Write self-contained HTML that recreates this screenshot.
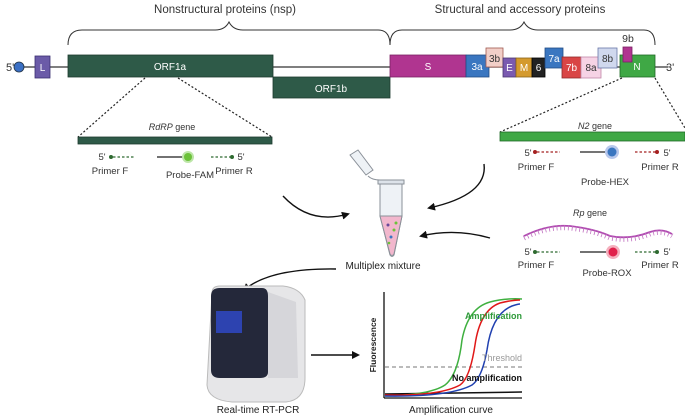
<!DOCTYPE html>
<html><head><meta charset="utf-8"><style>
html,body{margin:0;padding:0;background:#fff}
svg{display:block}
text{font-family:"Liberation Sans",sans-serif}
</style></head><body>
<svg width="685" height="417" viewBox="0 0 685 417" xmlns="http://www.w3.org/2000/svg">
<g font-size="11.5" fill="#333" text-anchor="middle">
<text x="225" y="13">Nonstructural proteins (nsp)</text>
<text x="520" y="13">Structural and accessory proteins</text>
</g>
<g fill="none" stroke="#333" stroke-width="1">
<path d="M68,45 Q68,30 82,30 L215,30 Q225,30 229,22 Q233,30 243,30 L378,30 Q390,30 390,45"/>
<path d="M390,45 Q390,30 402,30 L510,30 Q520,30 524,22 Q528,30 538,30 L644,30 Q655,30 655,45"/>
</g>
<line x1="20" y1="67" x2="668" y2="67" stroke="#333" stroke-width="1.3"/>
<line x1="273" y1="87" x2="390" y2="87" stroke="#333" stroke-width="1.3"/>
<text x="6" y="71" font-size="11" fill="#333">5'</text>
<text x="666" y="71" font-size="11" fill="#333">3'</text>
<circle cx="19" cy="67" r="5" fill="#3a6fc4" stroke="#234" stroke-width="0.8"/>
<g stroke-width="0.8" font-size="10" fill="#fff" text-anchor="middle">
<rect x="35" y="56" width="15" height="22" fill="#6b5ba8" stroke="#3a2f70"/><text x="42.5" y="71" fill="#fff">L</text>
<rect x="68" y="55" width="205" height="22" fill="#2e5a48" stroke="#1d3a2e"/><text x="170" y="70" fill="#fff">ORF1a</text>
<rect x="273" y="77" width="117" height="21" fill="#2e5a48" stroke="#1d3a2e"/><text x="331" y="92" fill="#fff">ORF1b</text>
<rect x="390" y="55" width="76" height="22" fill="#b03590" stroke="#7a2264"/><text x="428" y="70" fill="#fff">S</text>
<rect x="466" y="55" width="23" height="22" fill="#3a76c0" stroke="#244d85"/><text x="477" y="70" fill="#fff">3a</text>
<rect x="486" y="48" width="17" height="19" fill="#f2cfc8" stroke="#a05a50"/><text x="494.5" y="62" fill="#333">3b</text>
<rect x="503" y="58" width="13" height="19" fill="#7a5ab0" stroke="#4a3570"/><text x="509.5" y="71" fill="#fff">E</text>
<rect x="516" y="58" width="16" height="19" fill="#d49a2e" stroke="#8a6418"/><text x="524" y="71" fill="#fff">M</text>
<rect x="532" y="58" width="13" height="19" fill="#222" stroke="#000"/><text x="538.5" y="71" fill="#fff">6</text>
<rect x="545" y="48" width="18" height="20" fill="#3a76c0" stroke="#244d85"/><text x="554" y="62" fill="#fff">7a</text>
<rect x="562" y="57" width="19" height="21" fill="#d94545" stroke="#8f2a2a"/><text x="571.5" y="71" fill="#fff">7b</text>
<rect x="581" y="57" width="20" height="21" fill="#f6d3e5" stroke="#c088a8"/><text x="591" y="71" fill="#333">8a</text>
<rect x="598" y="48" width="19" height="20" fill="#d0d8ee" stroke="#6a78a8"/><text x="607.5" y="62" fill="#333">8b</text>
<rect x="620" y="55" width="35" height="22" fill="#3fa845" stroke="#1f6a25"/><text x="637" y="70" fill="#fff">N</text>
<rect x="623" y="47" width="9" height="15" fill="#b03590" stroke="#7a2264"/>
</g>
<text x="628" y="42" font-size="10.5" fill="#333" text-anchor="middle">9b</text>
<g stroke="#222" stroke-width="1.2" stroke-dasharray="2,2" fill="none">
<line x1="145" y1="78" x2="78" y2="137"/><line x1="178" y1="78" x2="272" y2="137"/>
<line x1="622" y1="78" x2="500" y2="132"/><line x1="655" y1="78" x2="685" y2="128"/>
</g>
<!-- RdRP -->
<text x="172" y="130" font-size="9" fill="#333" text-anchor="middle"><tspan font-style="italic">RdRP</tspan> gene</text>
<rect x="78" y="137" width="194" height="7" fill="#2e5a48" stroke="#1d3a2e" stroke-width="0.8"/>
<g font-size="9.5" fill="#333" text-anchor="middle">
<text x="102" y="160">5'</text><circle cx="111" cy="157" r="2" fill="#2e6a30"/>
<line x1="113" y1="157" x2="135" y2="157" stroke="#2e6a30" stroke-dasharray="2.5,2" stroke-width="1.2"/>
<text x="110" y="174">Primer F</text>
<line x1="157" y1="157" x2="186" y2="157" stroke="#444" stroke-width="1.5"/>
<circle cx="188" cy="157" r="6" fill="#bde6a8"/><circle cx="188" cy="157" r="4" fill="#6cc23a"/>
<text x="190" y="178">Probe-FAM</text>
<line x1="211" y1="157" x2="230" y2="157" stroke="#2e6a30" stroke-dasharray="2.5,2" stroke-width="1.2"/>
<circle cx="232" cy="157" r="2" fill="#2e6a30"/><text x="241" y="160">5'</text>
<text x="234" y="174">Primer R</text>
</g>
<!-- N2 -->
<text x="595" y="129" font-size="9" fill="#333" text-anchor="middle"><tspan font-style="italic">N2</tspan> gene</text>
<rect x="500" y="132" width="185" height="9" fill="#3fa845" stroke="#1f6a25" stroke-width="0.8"/>
<g font-size="9.5" fill="#333" text-anchor="middle">
<text x="528" y="156">5'</text><circle cx="535" cy="152" r="2" fill="#a52020"/>
<line x1="537" y1="152" x2="560" y2="152" stroke="#a52020" stroke-dasharray="2.5,2" stroke-width="1.2"/>
<text x="536" y="170">Primer F</text>
<line x1="580" y1="152" x2="610" y2="152" stroke="#222" stroke-width="1.3"/>
<circle cx="612" cy="152" r="7" fill="#b8c8ec"/><circle cx="612" cy="152" r="4.5" fill="#3a76c0"/>
<text x="605" y="185">Probe-HEX</text>
<line x1="635" y1="152" x2="656" y2="152" stroke="#a52020" stroke-dasharray="2.5,2" stroke-width="1.2"/>
<circle cx="657" cy="152" r="2" fill="#a52020"/><text x="667" y="156">5'</text>
<text x="660" y="170">Primer R</text>
</g>
<!-- Rp -->
<text x="590" y="216" font-size="9" fill="#333" text-anchor="middle"><tspan font-style="italic">Rp</tspan> gene</text>
<path d="M524,236 Q548,224 570,226 Q595,229 610,236 Q630,240 650,232 Q662,228 672,234" fill="none" stroke="#b04ab0" stroke-width="1.8"/>
<path d="M524,236 Q548,224 570,226 Q595,229 610,236 Q630,240 650,232 Q662,228 672,234" fill="none" stroke="#c070c0" stroke-width="5" stroke-dasharray="0.8,3" transform="translate(0,2)"/>
<g font-size="9.5" fill="#333" text-anchor="middle">
<text x="528" y="255">5'</text><circle cx="535" cy="252" r="2" fill="#2e6a30"/>
<line x1="537" y1="252" x2="560" y2="252" stroke="#2e6a30" stroke-dasharray="2.5,2" stroke-width="1.2"/>
<text x="536" y="268">Primer F</text>
<line x1="580" y1="252" x2="611" y2="252" stroke="#444" stroke-width="1.5"/>
<circle cx="613" cy="252" r="7" fill="#f4b0be"/><circle cx="613" cy="252" r="4.5" fill="#e0204a"/>
<text x="607" y="276">Probe-ROX</text>
<line x1="635" y1="252" x2="656" y2="252" stroke="#2e6a30" stroke-dasharray="2.5,2" stroke-width="1.2"/>
<circle cx="657" cy="252" r="2" fill="#2e6a30"/><text x="667" y="255">5'</text>
<text x="660" y="268">Primer R</text>
</g>
<!-- Tube -->
<g stroke="#8a9098" stroke-width="1">
<path d="M350,155 L358,150 L373,170 L366,175 Z" fill="#eef2f6"/>
<path d="M368,176 Q372,180 380,180" fill="none"/>
<rect x="378" y="180" width="26" height="4" fill="#dde3ea"/>
<path d="M380,184 L402,184 L402,216 L394,255 Q392,258 390,255 L380,216 Z" fill="#eef2f6"/>
<path d="M380,216 L402,216 L394,254 Q392,257 390,254 Z" fill="#f2b7cd"/>
</g>
<circle cx="388" cy="225" r="1.5" fill="#6a4a9a"/><circle cx="394" cy="230" r="1.5" fill="#6cc23a"/><circle cx="391" cy="237" r="1.5" fill="#3a76c0"/><circle cx="396" cy="223" r="1.5" fill="#6cc23a"/><circle cx="389" cy="243" r="1.3" fill="#6cc23a"/>
<text x="383" y="269" font-size="10" fill="#222" text-anchor="middle">Multiplex mixture</text>
<!-- arrows -->
<defs><marker id="ah" markerWidth="8" markerHeight="8" refX="6" refY="4" orient="auto" markerUnits="userSpaceOnUse"><path d="M0,0 L8,4 L0,8 Z" fill="#111"/></marker></defs>
<g fill="none" stroke="#111" stroke-width="1.4" marker-end="url(#ah)">
<path d="M283,196 Q310,225 348,214"/>
<path d="M484,164 Q488,195 429,208"/>
<path d="M490,238 Q455,228 421,236"/>
<path d="M336,269 Q270,268 244,290"/>
<path d="M311,355 L358,355"/>
</g>
<!-- Machine -->
<path d="M212,293 Q212,286 220,286 L283,286 Q300,288 305,300 L305,378 Q305,400 286,402 L232,402 Q208,400 207,385 Z" fill="#e6e6e8" stroke="#bbb" stroke-width="1"/>
<path d="M211,296 Q211,288 220,288 L262,288 Q268,288 268,296 L268,372 Q268,378 260,378 L220,378 Q211,378 211,370 Z" fill="#24283a"/>
<rect x="216" y="311" width="26" height="22" fill="#2d43b0"/>
<path d="M268,292 L296,302 L298,378 L268,378" fill="#d6d6da"/>
<text x="258" y="413" font-size="10" fill="#222" text-anchor="middle">Real-time RT-PCR</text>
<!-- Chart -->
<line x1="384" y1="292" x2="384" y2="398" stroke="#111" stroke-width="1.3"/>
<line x1="384" y1="398" x2="522" y2="398" stroke="#111" stroke-width="1.3"/>
<text transform="translate(376,345) rotate(-90)" font-size="8.5" font-weight="bold" fill="#222" text-anchor="middle">Fluorescence</text>
<line x1="385" y1="367" x2="522" y2="367" stroke="#777" stroke-dasharray="4,3" stroke-width="1"/>
<path d="M385,394 L522,392" stroke="#111" stroke-width="1.5" fill="none"/>
<path d="M385,396 Q430,395 445,385 Q458,375 462,340 Q468,308 490,302 Q505,298 522,299" stroke="#3fb040" stroke-width="1.5" fill="none"/>
<path d="M385,395 Q440,396 460,385 Q470,378 475,345 Q480,310 500,303 Q512,300 520,300" stroke="#e01818" stroke-width="1.5" fill="none"/>
<path d="M385,396 Q450,397 472,385 Q482,378 487,350 Q492,314 512,306 Q518,304 520,304" stroke="#2040b0" stroke-width="1.5" fill="none"/>
<text x="522" y="319" font-size="9" font-weight="bold" fill="#2e9a3a" text-anchor="end">Amplification</text>
<text x="522" y="361" font-size="9" fill="#999" text-anchor="end">Threshold</text>
<text x="522" y="381" font-size="9" font-weight="bold" fill="#111" text-anchor="end">No amplification</text>
<text x="451" y="413" font-size="10" fill="#222" text-anchor="middle">Amplification curve</text>
</svg>
</body></html>
